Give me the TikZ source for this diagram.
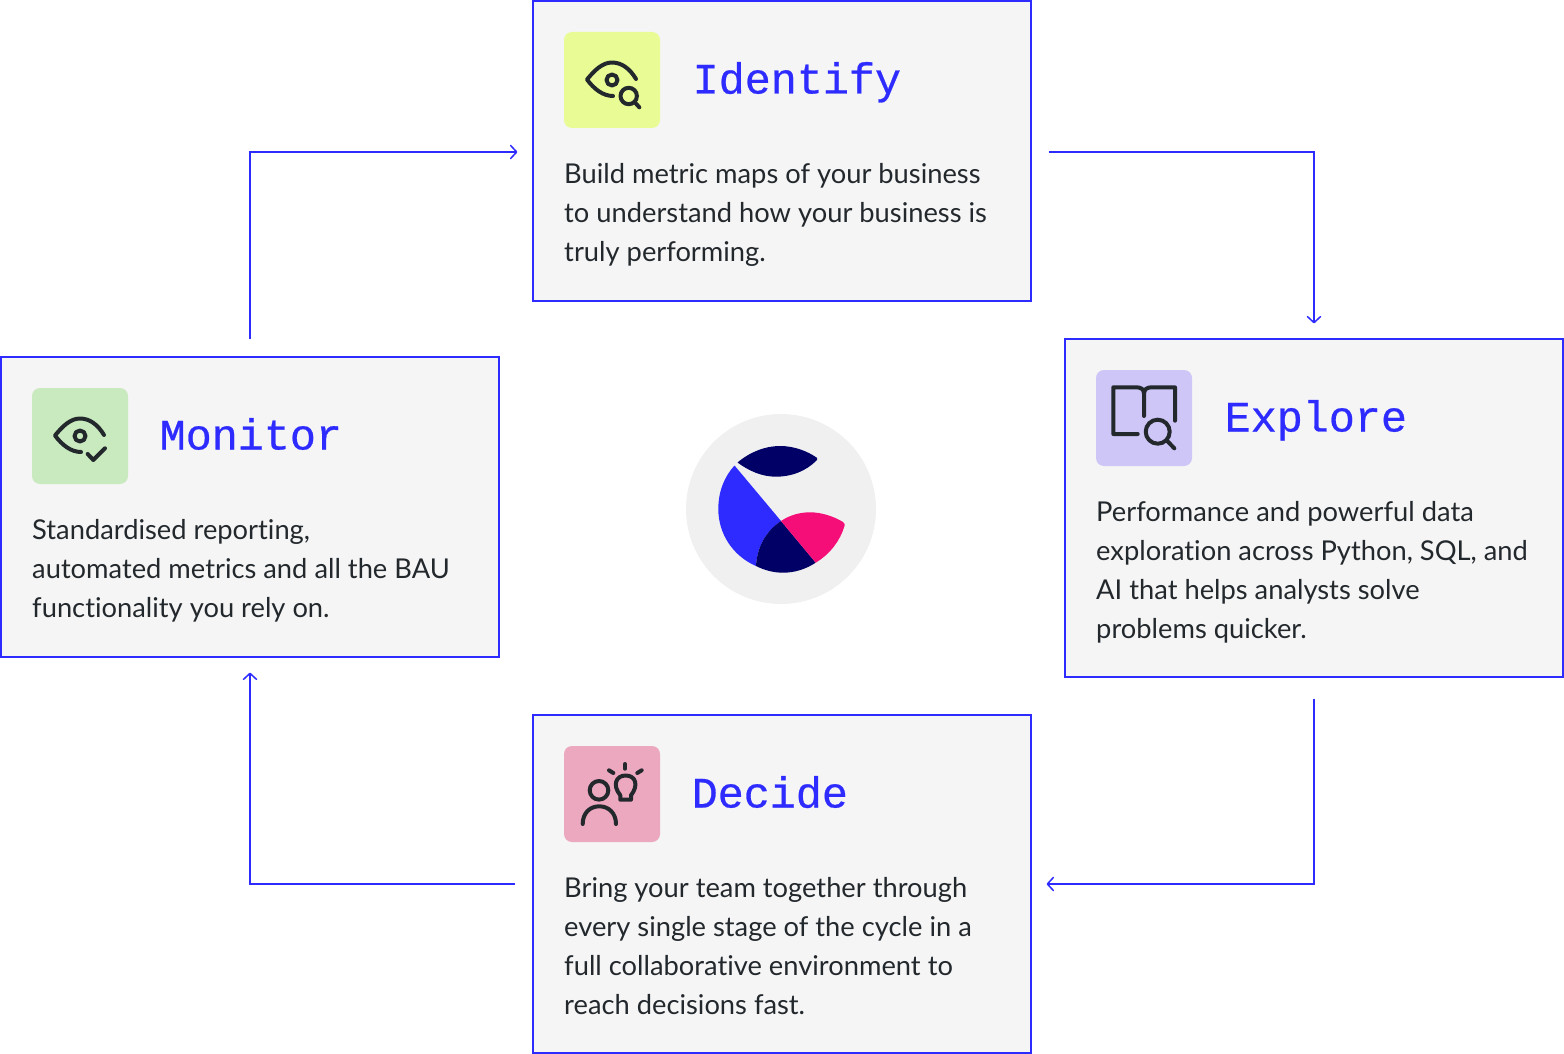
\documentclass[tikz,border=0pt]{standalone}
\usepackage{fontspec}
\setmainfont[Ligatures=NoCommon]{Lato}
\newfontfamily\titlefont[FakeBold=0.6]{Liberation Mono}
\usetikzlibrary{arrows.meta}
\definecolor{flowblue}{HTML}{2D2BFF}
\definecolor{boxgrey}{HTML}{F5F5F5}
\definecolor{inkdark}{HTML}{23282D}
\definecolor{logonavy}{HTML}{000066}
\definecolor{logopink}{HTML}{F50D78}
\definecolor{logogrey}{HTML}{F0F0F0}
\definecolor{tileyellow}{HTML}{E8FB95}
\definecolor{tilepurple}{HTML}{CDC6F7}
\definecolor{tilepink}{HTML}{ECA8BE}
\definecolor{tilegreen}{HTML}{C9E9BE}
\tikzset{
  card/.style={draw=flowblue,line width=1.2pt,fill=boxgrey,inner sep=0pt,minimum width=498pt},
  tile/.style={rounded corners=8pt,inner sep=0pt,minimum size=96pt},
  heading/.style={anchor=base west,inner sep=0pt,text=flowblue,font=\titlefont\fontsize{43.4}{43}\selectfont},
  blurb/.style={anchor=north west,inner sep=0pt,align=left,text=inkdark,font=\fontsize{27.3}{39}\selectfont},
  flow/.style={draw=flowblue,line width=1.5pt,-{Straight Barb[length=6pt,width=13pt,round]},shorten <=17pt,shorten >=15pt},
  glyph/.style={draw=inkdark,line width=4pt,line cap=round,line join=round}
}
\newcommand{\eyeglyph}[2]{%
  \draw[glyph,shift={(#1,#2)}] (24,-1) .. controls (18,-11) and (10,-17.5) .. (0,-17.5)
    .. controls (-10,-17.5) and (-18,-9) .. (-25,-0.5)
    .. controls (-18,9) and (-9,16) .. (1,16);
  \draw[glyph,shift={(#1,#2)}] (0,0) circle (5.5);
}
\begin{document}
\begin{tikzpicture}[x=1pt,y=-1pt]
  \useasboundingbox (0,0) rectangle (1564,1054);
  % cards
  \node[card,minimum height=300pt] (identify) at (782,151) {};
  \node[card,minimum height=338pt] (explore) at (1314,508) {};
  \node[card,minimum height=338pt] (decide) at (782,884) {};
  \node[card,minimum height=300pt] (monitor) at (250,507) {};
  % tiles
  \node[tile,fill=tileyellow] (identifytile) at (612,80) {};
  \node[tile,fill=tilepurple] (exploretile) at (1144,418) {};
  \node[tile,fill=tilepink] (decidetile) at (612,794) {};
  \node[tile,fill=tilegreen] (monitortile) at (80,436) {};
  % headings
  \node[heading] (identifyhead) at (692.5,93.5) {Identify};
  \node[heading] (explorehead) at (1224.5,431.5) {Explore};
  \node[heading] (decidehead) at (691.5,807.5) {Decide};
  \node[heading] (monitorhead) at (159.5,449.5) {Monitor};
  % text
  \node[blurb] (identifytext) at (564,163) {Build metric maps of your business\\to understand how your business is\\truly performing.};
  \node[blurb] (exploretext) at (1096,501) {Performance and powerful data\\exploration across Python, SQL, and\\AI that helps analysts solve\\problems quicker.};
  \node[blurb] (decidetext) at (564,877) {Bring your team together through\\every single stage of the cycle in a\\full collaborative environment to\\reach decisions fast.};
  \node[blurb] (monitortext) at (32,519) {Standardised reporting,\\automated metrics and all the BAU\\functionality you rely on.};
  % connectors
  \path[flow] (monitor.north) |- ([yshift=-1pt]identify.west);
  \path[flow] ([yshift=-1pt]identify.east) -| (explore.north);
  \path[flow,shorten <=21pt] (explore.south) |- (decide.east);
  \path[flow] (decide.west) -| (monitor.south);
  % logo
  \node[circle,fill=logogrey,inner sep=0pt,minimum size=190pt] (logo) at (781,509) {};
  \fill[logonavy] (737.5,462.5) .. controls (750,452) and (765,446) .. (780,446)
    .. controls (794,446) and (807,451) .. (816.5,457.5) .. controls (817.5,458.5) and (817.5,459.5) .. (816.5,460.5)
    .. controls (806,471) and (792,476.7) .. (776,476.7) .. controls (762,476.7) and (749,471) .. (737.5,462.5) -- cycle;
  \fill[flowblue] (734.5,465.5) -- (781,521) .. controls (766,531) and (757,547) .. (756,566)
    .. controls (733,556) and (718.3,534) .. (718.3,509) .. controls (718.3,492) and (724,477) .. (734.5,465.5) -- cycle;
  \fill[logonavy] (781,521) -- (815.7,562.7) .. controls (806,569) and (795,572.7) .. (783,572.7)
    .. controls (773,572.7) and (764,570) .. (756,566) .. controls (757,547) and (766,531) .. (781,521) -- cycle;
  \fill[logopink] (781,521) .. controls (790,515) and (800,512.3) .. (810,512.3)
    .. controls (821,512.3) and (833,516) .. (843,522) .. controls (844.5,523) and (845,524.5) .. (844.5,526)
    .. controls (840,541) and (830,554) .. (815.7,562.7) -- cycle;
  % identify icon
  \eyeglyph{612}{80}
  \draw[glyph] (628.7,96) circle (8.2);
  \draw[glyph] (634.8,102.3) -- (639.3,107.3);
  % monitor icon
  \eyeglyph{80}{436}
  \draw[glyph] (87.7,454) -- (93.3,460) -- (105,448.3);
  % explore icon
  \draw[glyph] (1137.7,434) -- (1113.3,434) -- (1113.3,387.3) -- (1136,387.3)
    .. controls (1141,387.3) and (1144,389) .. (1144,394) -- (1144,416);
  \draw[glyph] (1144,394) .. controls (1144,389) and (1147,387.3) .. (1152,387.3) -- (1175,387.3) -- (1175,420.7);
  \draw[glyph] (1157.7,431.7) circle (12);
  \draw[glyph] (1167,440.7) -- (1174.3,448.3);
  % decide icon
  \draw[glyph] (599,790.3) circle (9.3);
  \draw[glyph] (582.7,824) .. controls (582.7,813) and (590,806.3) .. (599.3,806.3)
    .. controls (608.5,806.3) and (616,813) .. (616,824);
  \draw[glyph] (620.3,799.7) -- (620.3,795.3) .. controls (612,785) and (616,775.5) .. (625.7,775.5)
    .. controls (635.5,775.5) and (639,785) .. (631,795.3) -- (631,799.7) -- cycle;
  \draw[glyph] (625,764) -- (625,768.7);
  \draw[glyph] (609,770.3) -- (613.3,773);
  \draw[glyph] (641.7,770.3) -- (637.3,773);
\end{tikzpicture}
\end{document}
